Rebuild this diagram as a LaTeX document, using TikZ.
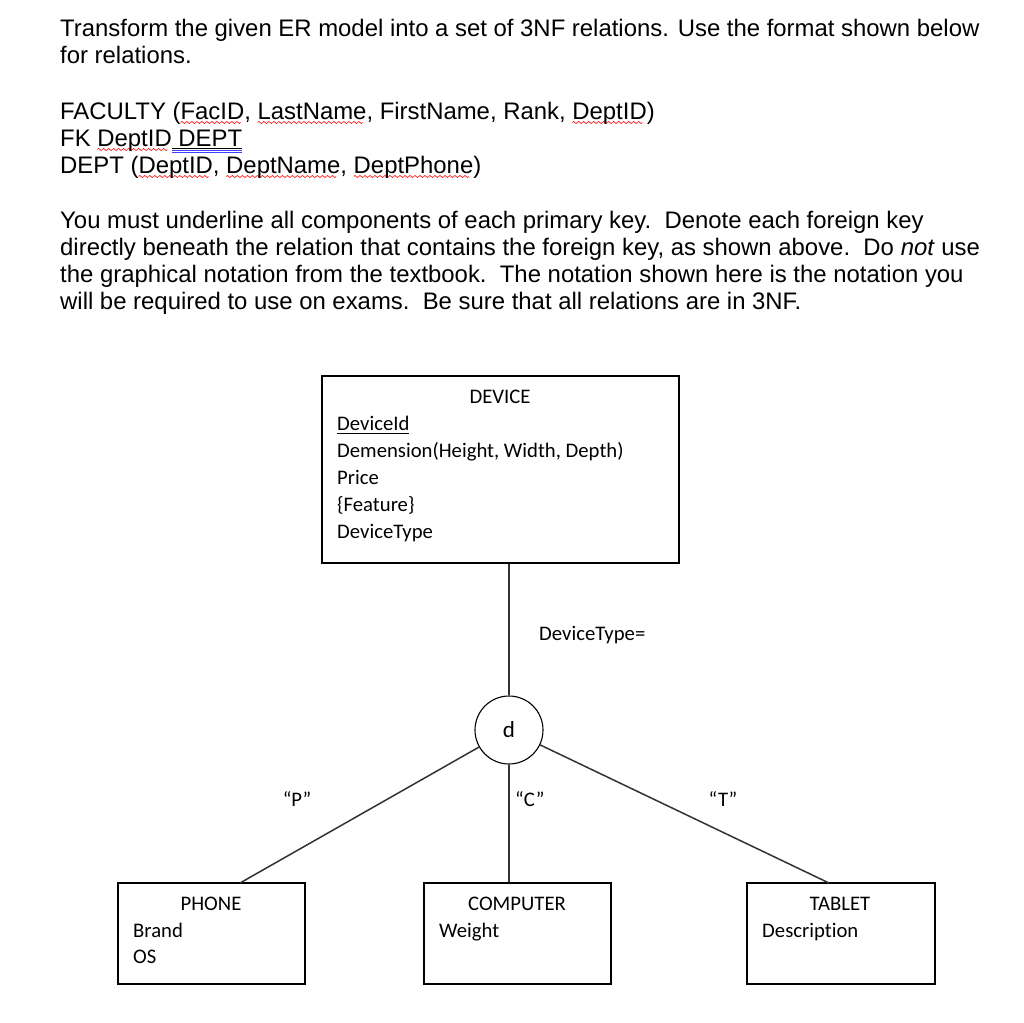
\documentclass[tikz,border=0pt]{standalone}
\usepackage{fontspec}
\setmainfont{Liberation Sans}
\newfontfamily\calibri[Ligatures=NoCommon]{Carlito}

\newsavebox\wavebox
\newcommand\spellwave[1]{\setbox0\hbox{#1}\rlap{\raisebox{-4.5pt}[0pt][0pt]{\hbox to\wd0{\leaders\copy\wavebox\hfil}}}\box0}
\newcommand\keyline[1]{\setbox0\hbox{#1}\rlap{\rule[-3.5pt]{\wd0}{0.9pt}}\box0}
\newcommand\grammarline[1]{\setbox0\hbox{#1}\rlap{\rule[-2.5pt]{\wd0}{1pt}}\rlap{\color{blue!75}\rule[-4.5pt]{\wd0}{0.8pt}}\rlap{\color{blue!75}\rule[-6.8pt]{\wd0}{0.8pt}}\box0}

\tikzset{
  prose/.style={anchor=base west, inner sep=0pt, font=\fontsize{23.9}{27}\selectfont},
  entity/.style={draw, line width=1.2pt, inner sep=0pt},
  attr/.style={anchor=base west, inner sep=0pt, font=\calibri\fontsize{20.7}{24}\selectfont},
  title/.style={attr, anchor=base},
  link/.style={line width=1.5pt, draw=black!80}
}

\begin{document}
\sbox\wavebox{\begin{pgfpicture}%
  \pgfsetlinewidth{0.6pt}\pgfsetstrokecolor{red}%
  \pgfpathmoveto{\pgfpoint{0pt}{0pt}}%
  \pgfpathlineto{\pgfpoint{1.25pt}{1pt}}%
  \pgfpathlineto{\pgfpoint{3.75pt}{-1pt}}%
  \pgfpathlineto{\pgfpoint{5pt}{0pt}}%
  \pgfusepath{stroke}%
  \pgfresetboundingbox
  \pgfpathrectangle{\pgfpoint{0pt}{-1pt}}{\pgfpoint{5pt}{2pt}}%
  \pgfusepath{use as bounding box}%
\end{pgfpicture}}%
\begin{tikzpicture}[x=1pt, y=-1pt]
    \useasboundingbox[fill=white] (0,0) rectangle (1024,1022);

    % task text
    \node[prose] (task1) at (60,37) {Transform the given ER model into a set of 3NF relations. Use the format shown below};
    \node[prose] (task2) at (60,64) {for relations.};
    \node[prose] (rel1) at (60,119) {FACULTY (\spellwave{FacID}, \spellwave{LastName}, FirstName, Rank, \spellwave{DeptID})};
    \node[prose] (rel2) at (60,146) {FK \spellwave{DeptID}\grammarline{~DEPT}};
    \node[prose] (rel3) at (60,173) {DEPT (\spellwave{DeptID}, \spellwave{DeptName}, \spellwave{DeptPhone})};
    \node[prose] (rule1) at (60,228) {You must underline all components of each primary key.\ \ Denote each foreign key};
    \node[prose] (rule2) at (60,255) {directly beneath the relation that contains the foreign key, as shown above.\ \ Do \emph{not} use};
    \node[prose] (rule3) at (60,282) {the graphical notation from the textbook.\ \ The notation shown here is the notation you};
    \node[prose] (rule4) at (60,309) {will be required to use on exams.\ \ Be sure that all relations are in 3NF.};

    % entities
    \node[entity, minimum width=357pt, minimum height=187pt] (device) at (500.5,469.5) {};
    \node[entity, minimum width=187pt, minimum height=101pt] (phone) at (211.5,933.5) {};
    \node[entity, minimum width=187pt, minimum height=101pt] (computer) at (517.5,933.5) {};
    \node[entity, minimum width=188pt, minimum height=101pt] (tablet) at (841,933.5) {};
    \node[draw, circle, line width=1.1pt, minimum size=68pt, inner sep=0pt, font=\calibri\fontsize{23}{26}\selectfont] (disj) at (509,730) {d};

    \node[title] (devname) at (500,403) {DEVICE};
    \node[attr] (devid) at (337,430) {\keyline{DeviceId}};
    \node[attr] (devdim) at (337,457) {Demension(Height, Width, Depth)};
    \node[attr] (devprice) at (337,484) {Price};
    \node[attr] (devfeat) at (337,511) {\{Feature\}};
    \node[attr] (devtype) at (337,538) {DeviceType};

    \node[title] (phonename) at (211,910) {PHONE};
    \node[attr] (phonebrand) at (133,937) {Brand};
    \node[attr] (phoneos) at (133,963) {OS};

    \node[title] (compname) at (517,910) {COMPUTER};
    \node[attr] (compweight) at (439,937) {Weight};

    \node[title] (tabname) at (840,910) {TABLET};
    \node[attr] (tabdesc) at (762,937) {Description};

    % discriminator labels
    \node[attr] (discr) at (539,640) {DeviceType=};
    \node[title] (labp) at (297,806) {“P”};
    \node[attr] (labc) at (515,806) {“C”};
    \node[title] (labt) at (723,806) {“T”};

    % connectors
    \coordinate (phonejoin) at (240,883);
    \coordinate (tabletjoin) at (829,883);
    \draw[link] (disj) -- (disj |- device.south);
    \draw[link] (disj) -- (disj |- computer.north);
    \draw[link] (disj) -- (phonejoin);
    \draw[link] (disj) -- (tabletjoin);
\end{tikzpicture}
\end{document}
